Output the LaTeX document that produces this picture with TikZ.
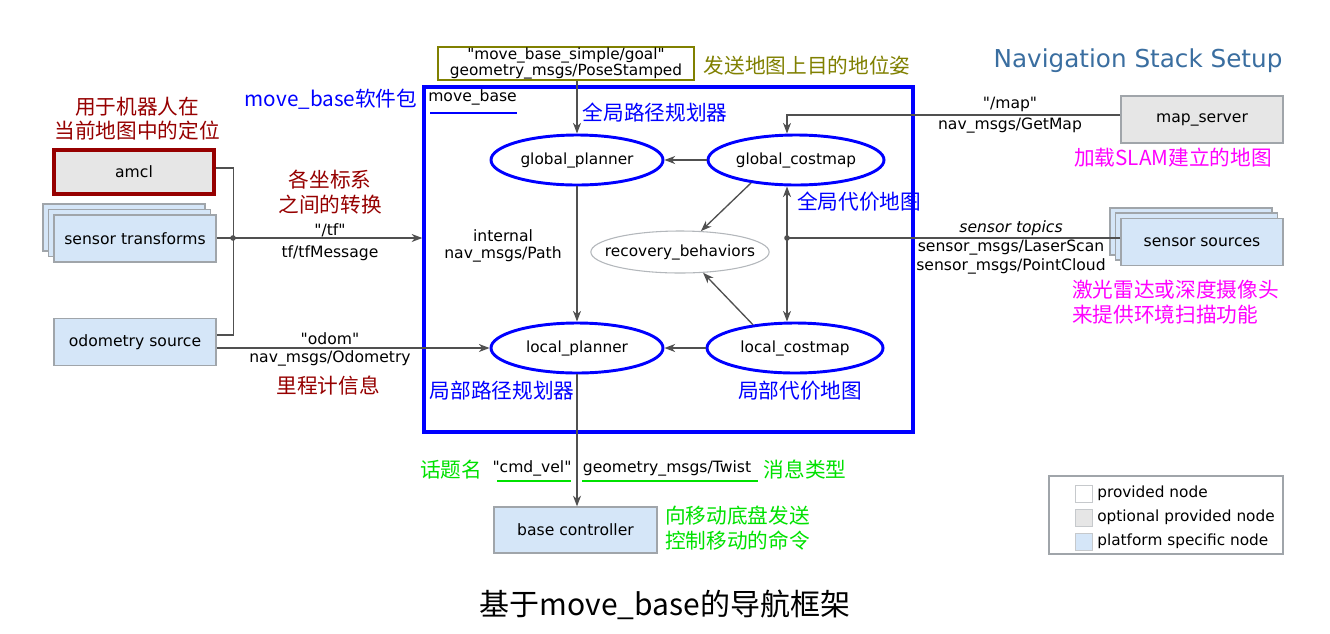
\documentclass[tikz,border=0pt]{standalone}
\usepackage{fontspec}
\setmainfont{DejaVu Sans}[Ligatures=TeXOff]
\newfontfamily\cjk{Noto Sans CJK SC}[Ligatures=TeXOff]
\usetikzlibrary{arrows.meta,shapes.geometric,calc}
\def\pxu{0.75pt}
\definecolor{mbblue}{RGB}{0,0,255}
\definecolor{platblue}{RGB}{213,230,248}
\definecolor{optgray}{RGB}{230,230,230}
\definecolor{boxgray}{RGB}{160,165,170}
\definecolor{darkred}{RGB}{150,0,0}
\definecolor{olivec}{RGB}{128,128,0}
\definecolor{greenc}{RGB}{0,225,0}
\definecolor{magc}{RGB}{255,0,255}
\definecolor{titleblue}{RGB}{58,110,160}
\definecolor{conngray}{RGB}{80,80,80}
\begin{document}
\begin{tikzpicture}[x=0.75pt,y=-0.75pt,
  lbl/.style={font=\fontsize{11.7}{13.5}\selectfont, inner sep=0pt, align=center},
  box/.style={draw=boxgray, line width=1pt, minimum width=162*\pxu, minimum height=47*\pxu, inner sep=0pt, font=\fontsize{11.7}{13.5}\selectfont},
  plat/.style={box, fill=platblue},
  opt/.style={box, fill=optgray},
  ell/.style={ellipse, draw=mbblue, line width=2.2pt, minimum width=172*\pxu, minimum height=50*\pxu, inner sep=0pt, font=\fontsize{11.5}{13.5}\selectfont},
  conn/.style={draw=conngray, line width=1pt},
  arr/.style={conn, -{Stealth[length=8pt,width=6pt,inset=2.5pt]}},
  cn/.style={font=\cjk\fontsize{15.5}{18}\selectfont, inner sep=0pt, align=center},
  uline/.style={line width=2.2pt}
]
\useasboundingbox (0,0) rectangle (1330,633);
\fill[white] (0,0) rectangle (1330,633);

% title
\node[font=\fontsize{18.5}{22}\selectfont, text=titleblue, inner sep=0pt] (title) at (1138,61) {Navigation Stack Setup};

% move_base box
\node[draw=mbblue, line width=2.5pt, minimum width=489*\pxu, minimum height=345*\pxu, inner sep=0pt] (mb) at (668.5,259.5) {};
\node[lbl, anchor=west, font=\fontsize{11.7}{13.5}\selectfont] (mblabel) at (428,97) {move\_base};
\draw[mbblue, uline] (430,113) -- (517,113);
\node[cn, text=mbblue] (mbcn) at (331,99) {move\_base软件包};

% goal box
\node[draw=olivec, line width=2.2pt, minimum width=256*\pxu, minimum height=33*\pxu, inner sep=0pt, font=\fontsize{11.5}{11.5}\selectfont, align=center] (goal) at (566,63.5) {"move\_base\_simple/goal"\\geometry\_msgs/PoseStamped};
\node[cn, text=olivec] (goalcn) at (807,66) {发送地图上目的地位姿};

% ellipses
\node[ell] (gp) at (577,160) {global\_planner};
\node[ell, minimum width=176*\pxu] (gc) at (796,160) {global\_costmap};
\node[ell] (lp) at (577,348) {local\_planner};
\node[ell, minimum width=176*\pxu] (lc) at (795,348) {local\_costmap};
\node[ell, draw=boxgray!80, line width=0.8pt, inner xsep=-9pt, minimum width=172*\pxu, minimum height=42*\pxu] (rb) at (680,252) {recovery\_behaviors};

\node[cn, text=mbblue] (gpcn) at (655,113) {全局路径规划器};
\node[cn, text=mbblue] (gccn) at (859,202) {全局代价地图};
\node[cn, text=mbblue] (lpcn) at (502,391) {局部路径规划器};
\node[cn, text=mbblue] (lccn) at (800,391) {局部代价地图};
\node[lbl, align=center, font=\fontsize{11.7}{12.8}\selectfont] (internal) at (503,246) {internal\\nav\_msgs/Path};

% left side nodes
\node[cn, text=darkred, font=\cjk\fontsize{15.5}{18.2}\selectfont] (amclcn) at (137,119) {用于机器人在\\当前地图中的定位};
\node[opt, draw=darkred, line width=2.4pt, minimum width=160*\pxu, minimum height=44*\pxu] (amcl) at (134,172) {amcl};
\filldraw[fill=platblue, draw=boxgray, line width=1pt] (43,204) rectangle ++(162,47);
\filldraw[fill=platblue, draw=boxgray, line width=1pt] (48.5,209.5) rectangle ++(162,47);
\node[plat] (st) at (135,238.5) {sensor transforms};
\node[plat] (odom) at (135,342) {odometry source};

\node[cn, text=darkred, font=\cjk\fontsize{15.5}{18.2}\selectfont] (tfcn) at (330,192) {各坐标系\\之间的转换};
\node[lbl] (tfa) at (330,230) {"/tf"};
\node[lbl] (tfb) at (330,253) {tf/tfMessage};
\node[lbl] (oda) at (330,339) {"odom"};
\node[lbl] (odb) at (330,358) {nav\_msgs/Odometry};
\node[cn, text=darkred] (odcn) at (328,386) {里程计信息};

% right side nodes
\node[opt] (ms) at (1202,119.5) {map\_server};
\node[lbl] (mapa) at (1010,104) {"/map"};
\node[lbl] (mapb) at (1010,126) {nav\_msgs/GetMap};
\node[cn, text=magc] (mscn) at (1173,158) {加载SLAM建立的地图};

\filldraw[fill=platblue, draw=boxgray, line width=1pt] (1110,208) rectangle ++(162,47);
\filldraw[fill=platblue, draw=boxgray, line width=1pt] (1115.5,213) rectangle ++(162,47);
\node[plat] (ss) at (1202,242) {sensor sources};
\node[lbl, font=\itshape\fontsize{11.7}{13.5}\selectfont] (sta) at (1011,228) {sensor topics};
\node[lbl] (stb) at (1011,248) {sensor\_msgs/LaserScan};
\node[lbl] (stc) at (1011,266) {sensor\_msgs/PointCloud};
\node[cn, text=magc, anchor=west, align=left, font=\cjk\fontsize{15.5}{18.2}\selectfont] (sscn) at (1072,302) {激光雷达或深度摄像头\\来提供环境扫描功能};

% bottom
\node[plat, minimum width=163*\pxu, minimum height=46*\pxu] (bc) at (575.5,530) {base controller};
\node[cn, text=greenc] (tn) at (451,470) {话题名};
\node[lbl] (cmdv) at (532,468) {"cmd\_vel"};
\node[lbl] (twist) at (667,468) {geometry\_msgs/Twist};
\node[cn, text=greenc] (mt) at (805,470) {消息类型};
\draw[greenc, uline] (497,481) -- (571,481);
\draw[greenc, uline] (582,481) -- (758,481);
\node[cn, text=greenc, anchor=west, align=left, font=\cjk\fontsize{15.5}{18.2}\selectfont] (bccn) at (665,528) {向移动底盘发送\\控制移动的命令};

\node[font=\cjk\fontsize{22.5}{26}\selectfont, inner sep=0pt] (caption) at (665,605) {基于move\_base的导航框架};

% legend
\draw[boxgray, line width=1pt] (1049,476) rectangle (1283,554);
\filldraw[fill=white, draw=boxgray!60, line width=0.6pt] (1075,485) rectangle ++(17,17);
\filldraw[fill=optgray, draw=boxgray!60, line width=0.6pt] (1075,509) rectangle ++(17,17);
\filldraw[fill=platblue, draw=boxgray!60, line width=0.6pt] (1075,533) rectangle ++(17,17);
\node[lbl, anchor=west, font=\fontsize{11.5}{13.5}\selectfont] (lg1) at (1097,493.5) {provided node};
\node[lbl, anchor=west, font=\fontsize{11.5}{13.5}\selectfont] (lg2) at (1097,517.5) {optional provided node};
\node[lbl, anchor=west, font=\fontsize{11.5}{13.5}\selectfont] (lg3) at (1097,541.5) {platform specific node};

% connectors inside move_base
\draw[arr] (goal.south -| gp.north) -- (gp.north);
\draw[arr] (gc.207) -- (rb.45);
\draw[arr] (gc.west) -- (gp.east);
\draw[arr] (lc.151) -- (rb.318);
\draw[arr] (gp.south) -- (lp.north);
\draw[arr] (lc.west) -- (lp.east);

% map
\coordinate (mapc) at (787,115);
\draw[arr] (mapc -| ms.west) -- (mapc) -- (mapc |- gc.north);

% sensors
\coordinate (sj) at (787,238);
\draw[conn] (ss.west |- sj) -- (sj);
\draw[arr] (sj) -- (sj |- gc.south);
\draw[arr] (sj) -- (sj |- lc.north);
\fill[conngray] (sj) circle (2.8);

% tf
\coordinate (tfj) at (233,238);
\draw[conn] ($(amcl.east)+(0,-4)$) -| ($(odom.east)+(17,-7)$) -- ($(odom.east)+(0,-7)$);
\draw[conn] (st.east |- tfj) -- (tfj);
\draw[arr] (tfj) -- (tfj -| mb.west);
\fill[conngray] (tfj) circle (2.8);

% odom
\draw[arr] ($(odom.east)+(0,6)$) -- (lp.west);

% cmd_vel
\draw[arr] (lp.south) -- (lp.south |- bc.north);
\end{tikzpicture}
\end{document}
